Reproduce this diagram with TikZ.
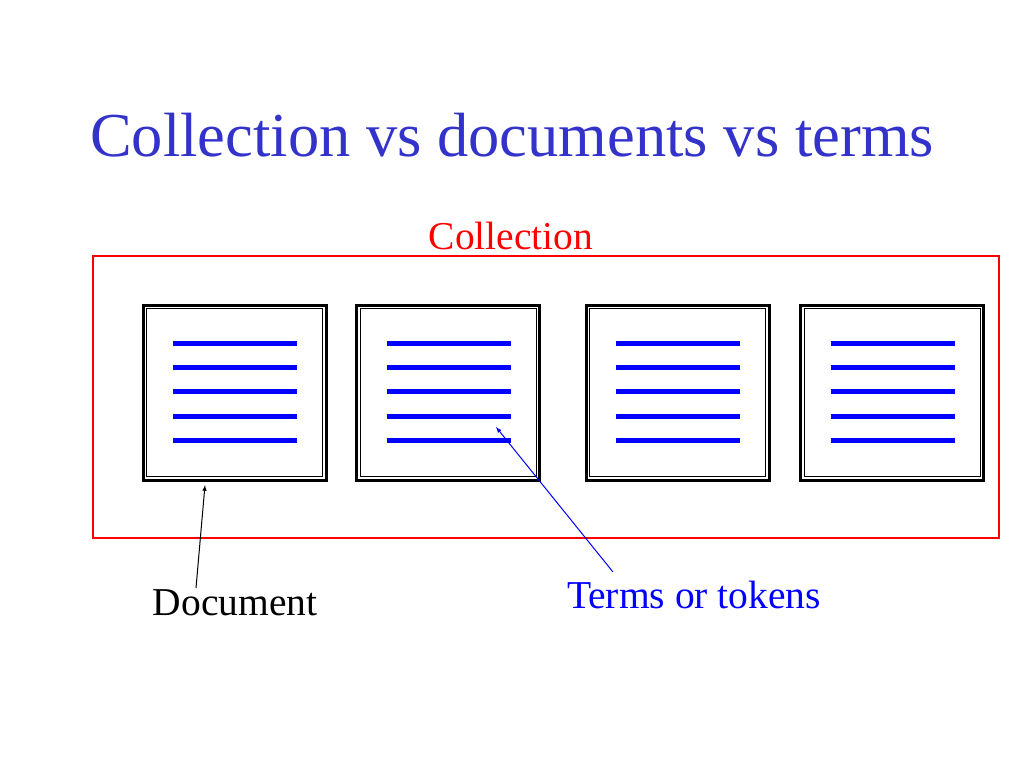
\documentclass[tikz,border=0pt]{standalone}
\usepackage{fontspec}
\setmainfont{Liberation Serif}
\begin{document}
\begin{tikzpicture}[x=1pt,y=-1pt,
  docbox/.style={draw,line width=3pt,minimum width=183pt,minimum height=175pt,inner sep=0pt},
  term/.style={draw=blue,line width=5pt},
  lbl/.style={font=\fontsize{39.5}{46}\selectfont,inner sep=0pt}]
\useasboundingbox (0,0) rectangle (1024,768);
\definecolor{titleblue}{RGB}{51,51,204}
\node[anchor=base west,text=titleblue,font=\fontsize{62.5}{70}\selectfont,inner sep=0pt] (title) at (90,156) {Collection vs documents vs terms};
\node[lbl,text=red] (colllbl) at (511,236) {Collection};
\draw[red,line width=2.5pt] (93,256) rectangle (999,538);
\foreach \n/\x in {d1/234.5,d2/448,d3/677.5,d4/892}{
  \node[docbox] (\n) at (\x,392.5) {};
  \draw[line width=0.8pt] ([shift={(5,-5)}]\n.south west) rectangle ([shift={(-5,5)}]\n.north east);
  \foreach \y in {343,367,391,416,440}
    \draw[term] (\x-61.5,\y) -- (\x+62.5,\y);
}
\node[lbl] (doclbl) at (235,603) {Document};
\node[lbl,text=blue] (termlbl) at (694,595) {Terms or tokens};
\coordinate (docend) at (205,485);
\coordinate (termend) at (496,427);
\draw[-latex,line width=1pt] (196,588) -- (docend);
\draw[-latex,blue,line width=1pt] (613,572) -- (termend);
\end{tikzpicture}
\end{document}
